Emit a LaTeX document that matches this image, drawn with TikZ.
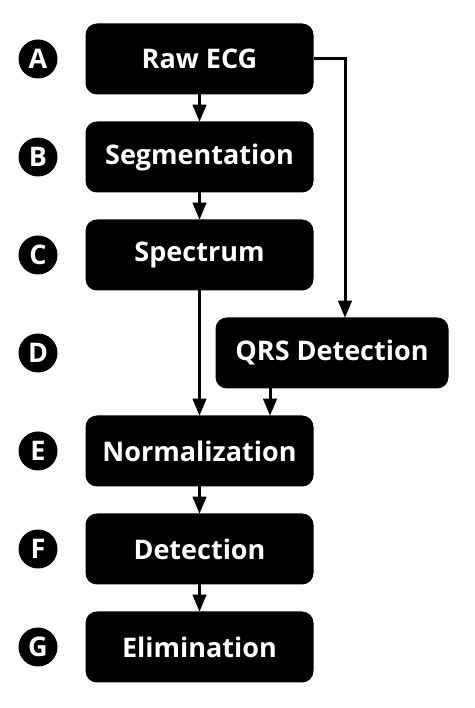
\documentclass[tikz,border=0pt]{standalone}
\usepackage{fontspec}
\setmainfont{Open Sans}
\usetikzlibrary{arrows,positioning,calc}
\tikzset{
  block/.style={
    draw=black,
    fill=black,
    text=white,
    rounded corners=10pt,
    minimum width=225pt,
    minimum height=68pt,
    inner sep=0pt,
    font=\fontsize{27}{30}\selectfont\bfseries
  },
  wide block/.style={
    block,
    minimum width=230pt
  },
  tag/.style={
    circle,
    fill=black,
    text=white,
    minimum size=39pt,
    inner sep=0pt,
    font=\fontsize{27}{30}\selectfont\bfseries
  }
}

\begin{document}
\begin{tikzpicture} [x=1pt, y=1pt, >=triangle 45, node
  distance=98pt, line width=3pt]
   \useasboundingbox (0,0) rectangle (474,708);
   \node[block] (raw) at (199.5,649) {Raw ECG};
   \node[block] (seg) [below of=raw] {Segmentation};
   \node[block] (spec) [below of=seg] {Spectrum};
   \node[block] (norm) [below of=spec, node distance=196pt] {Normalization};
   \node[block] (det) [below of=norm] {Detection};
   \node[block] (elim) [below of=det] {Elimination};
   \node[wide block] (qrs) at (332,355) {QRS Detection};

   \node[tag] (tA) at (38,649) {A};
   \node[tag] (tB) [below of=tA] {B};
   \node[tag] (tC) [below of=tB] {C};
   \node[tag] (tD) [below of=tC] {D};
   \node[tag] (tE) [below of=tD] {E};
   \node[tag] (tF) [below of=tE] {F};
   \node[tag] (tG) [below of=tF] {G};

   \draw[->] (raw) -- (seg);
   \draw[->] (seg) -- (spec);
   \draw[->] (spec) -- (norm);
   \draw[->] (norm) -- (det);
   \draw[->] (det) -- (elim);
   \draw[->] (raw.east) -| ([xshift=13pt]qrs.north);
   \draw[->] ([xshift=-62pt]qrs.south) -- ([xshift=-62pt]qrs.south |- norm.north);
\end{tikzpicture}
\end{document}
